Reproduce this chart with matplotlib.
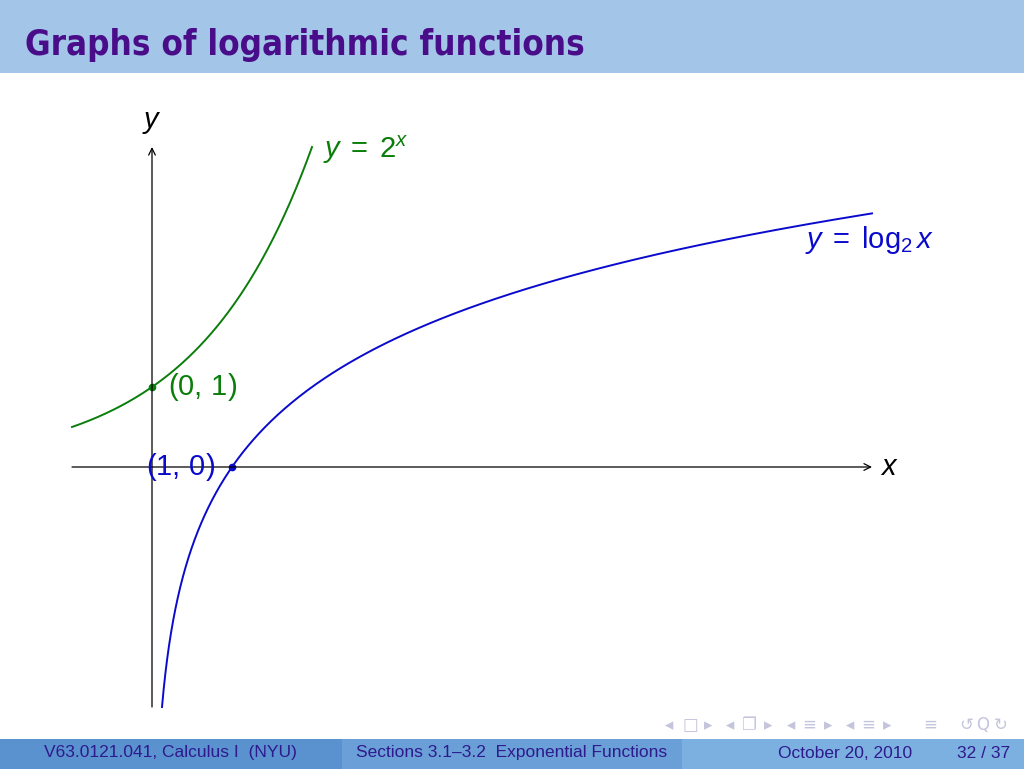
import numpy as np
import matplotlib
matplotlib.use("Agg")
import matplotlib.pyplot as plt
from matplotlib.patches import Rectangle

# ---- data ----
title = "Graphs of logarithmic functions"
exp_domain = [-1.0, 2.0]        # y = 2^x drawn over this x range
log_domain = [0.125, 9.0]       # y = log2 x drawn over this x range
x_axis_range = [-1.0, 9.0]
y_axis_range = [-3.0, 4.0]
exp_point = (0, 1)
log_point = (1, 0)
exp_label = r"$y\;=\;2^x$"
log_label = r"$y\;=\;\log_2 x$"
exp_point_label = r"$(0,\,1)$"
log_point_label = r"$(1,\,0)$"
footer_left = "V63.0121.041, Calculus I  (NYU)"
footer_mid = "Sections 3.1\u20133.2  Exponential Functions"
footer_date = "October 20, 2010"
footer_page = "32 / 37"

GREEN = "#0a7d0a"
BLUE = "#0a0acd"

plt.rcParams['mathtext.fontset'] = 'custom'
plt.rcParams['mathtext.rm'] = 'Liberation Sans'
plt.rcParams['mathtext.it'] = 'Liberation Sans:italic'
plt.rcParams['mathtext.bf'] = 'Liberation Sans:bold'

W, H = 1024, 769
fig = plt.figure(figsize=(W / 100, H / 100), dpi=100)
fig.patch.set_facecolor("white")

# pixel mapping: origin at (152, 467), 80 px per unit
ox, oy, s = 152.0, 467.0, 80.0
ax = fig.add_axes([0, 0, 1, 1])
ax.set_xlim(-ox / s, (W - ox) / s)
ax.set_ylim(-(H - oy) / s, oy / s)
ax.axis("off")

# header band
fig.patches.append(Rectangle((0, 1 - 73 / H), 1, 73 / H, transform=fig.transFigure,
                             facecolor="#a3c5e7", edgecolor="none", zorder=0))
fig.text(25 / W, 1 - 45 / H, title, fontsize=25, fontweight="bold",
         family=["DejaVu Sans"], fontstretch="condensed",
         color="#4a0d8a", va="center", ha="left")

# footer bands
fcol = ["#5a92d0", "#6a9fd8", "#7cb0e1"]
edges = [0, 342, 682, W]
for i in range(3):
    fig.patches.append(Rectangle((edges[i] / W, 0), (edges[i + 1] - edges[i]) / W, (H - 739) / H,
                                 transform=fig.transFigure, facecolor=fcol[i],
                                 edgecolor="none", zorder=0))
fcolor = "#2e1a8c"
fy = 1 - 753 / H
ffam = ["Liberation Sans"]
fsz = 12.5
fig.text(170 / W, fy, footer_left, fontsize=fsz, color=fcolor, ha="center", va="center", family=ffam)
fig.text(512 / W, fy, footer_mid, fontsize=fsz, color=fcolor, ha="center", va="center", family=ffam)
fig.text(845 / W, fy, footer_date, fontsize=fsz, color=fcolor, ha="center", va="center", family=ffam)
fig.text(984 / W, fy, footer_page, fontsize=fsz, color=fcolor, ha="center", va="center", family=ffam)

# navigation symbols
nav = [(669, "\u25c2"), (690, "\u25a1"), (708, "\u25b8"), (730, "\u25c2"), (748, "\u2750"), (768, "\u25b8"),
       (791, "\u25c2"), (809, "\u2261"), (828, "\u25b8"), (850, "\u25c2"), (868, "\u2261"), (887, "\u25b8"),
       (930, "\u2261"), (966, "\u21ba"), (983, "Q"), (1001, "\u21bb")]
for px, sym in nav:
    fig.text(px / W, 1 - 725 / H, sym, fontsize=12, color="#c4c4dc", ha="center", va="center",
             family=["DejaVu Sans"])

# axes with arrows
ax.annotate("", xy=(x_axis_range[1], 0), xytext=(x_axis_range[0], 0),
            arrowprops=dict(arrowstyle="->", lw=0.9, color="black", shrinkA=0, shrinkB=0,
                            mutation_scale=12))
ax.annotate("", xy=(0, y_axis_range[1]), xytext=(0, y_axis_range[0]),
            arrowprops=dict(arrowstyle="->", lw=0.9, color="black", shrinkA=0, shrinkB=0,
                            mutation_scale=12))
ax.text(x_axis_range[1] + 0.22, 0, r"$x$", fontsize=21, ha="center", va="center")
ax.text(0, y_axis_range[1] + 0.31, r"$y$", fontsize=21, ha="center", va="center")

# curves
xe = np.linspace(exp_domain[0], exp_domain[1], 300)
ax.plot(xe, 2.0 ** xe, color=GREEN, lw=1.4)
xl = np.geomspace(log_domain[0], log_domain[1], 400)
ax.plot(xl, np.log2(xl), color=BLUE, lw=1.4)

# points
ax.plot(*exp_point, "o", color=GREEN, ms=4.5)
ax.plot(*log_point, "o", color=BLUE, ms=4.5)

ax.text(exp_point[0] + 0.2, exp_point[1], exp_point_label, fontsize=21, color=GREEN,
        ha="left", va="center")
ax.text(log_point[0] - 0.21, log_point[1], log_point_label, fontsize=21, color=BLUE,
        ha="right", va="center")
ax.text(exp_domain[1] + 0.14, 2 ** exp_domain[1] - 0.04, exp_label, fontsize=21, color=GREEN,
        ha="left", va="center")
ax.text(log_domain[1] - 0.84, np.log2(log_domain[1]) - 0.33, log_label, fontsize=21, color=BLUE,
        ha="left", va="center")

fig.savefig("out.png", dpi=100)
